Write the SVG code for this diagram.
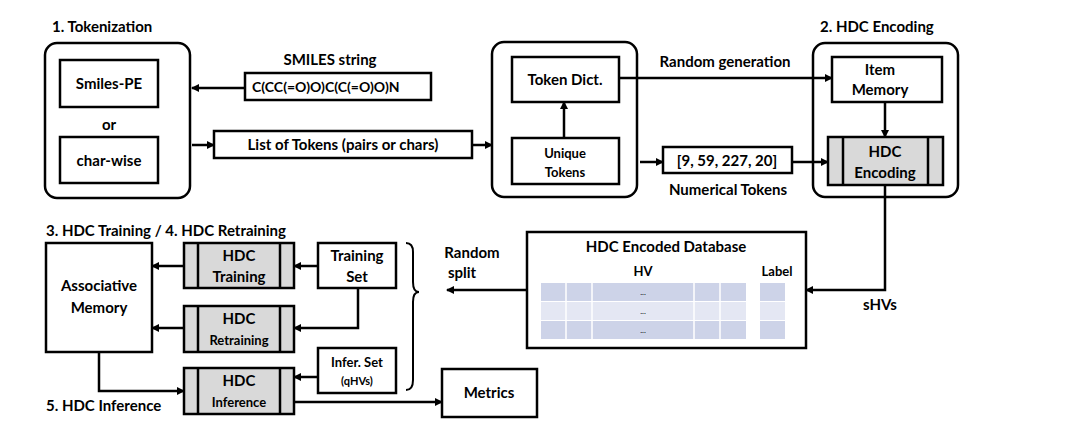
<svg xmlns="http://www.w3.org/2000/svg" width="1070" height="440" viewBox="0 0 1070 440">
<defs>
<marker id="ah" markerWidth="8" markerHeight="8" refX="7" refY="4" orient="auto" markerUnits="userSpaceOnUse"><path d="M0,0 L8,4 L0,8 Z" fill="#000"/></marker>
<style>
text{font-family:Lato,"Open Sans","Liberation Sans",sans-serif;font-weight:bold;fill:#000}
.t{font-size:15px;text-anchor:middle}
.s{font-size:13px;text-anchor:middle}
.h{font-size:15px}
.b{fill:#fff;stroke:#000;stroke-width:2.5}
.g{fill:#d9d9d9;stroke:#000;stroke-width:2.5}
.o{fill:#fff;stroke:#000;stroke-width:2.5}
.c{fill:none;stroke:#000;stroke-width:2.5;marker-end:url(#ah)}
.d{fill:none;stroke:#000;stroke-width:2.5}
.r1{fill:#cdd3e8}.r2{fill:#e4e7f3}
.dots{font-size:8px;font-weight:normal;text-anchor:middle}
</style>
</defs>
<rect width="1070" height="440" fill="#fff"/>
<g id="tokenization">
<text class="h" x="52" y="32">1. Tokenization</text>
<rect class="o" x="45" y="43" width="145" height="155" rx="12"/>
<rect class="b" x="60" y="60" width="98" height="47"/><text class="t" x="109" y="89">Smiles-PE</text>
<text class="t" x="109" y="130">or</text>
<rect class="b" x="60" y="137" width="98" height="46"/><text class="t" x="109" y="166">char-wise</text>
</g>
<g id="smiles">
<text class="t" x="330" y="65">SMILES string</text>
<rect class="b" x="245" y="73" width="186" height="27"/><text x="252" y="92" style="font-size:14px">C(CC(=O)O)C(C(=O)O)N</text>
</g>
<g id="list"><rect class="b" x="214" y="131" width="258" height="27"/><text class="t" x="343" y="150">List of Tokens (pairs or chars)</text></g>
<g id="dict">
<rect class="o" x="492" y="42" width="145" height="155" rx="12"/>
<rect class="b" x="512" y="57" width="107" height="45"/><text class="t" x="565" y="85">Token Dict.</text>
<rect class="b" x="512" y="138" width="107" height="46"/><text class="s" x="565" y="158">Unique</text><text class="s" x="565" y="177">Tokens</text>
</g>
<g id="numerical"><rect class="b" x="663" y="147" width="129" height="26"/><text class="t" x="727" y="166">[9, 59, 227, 20]</text>
<text class="t" x="728" y="195">Numerical Tokens</text></g>
<text class="t" x="725" y="67">Random generation</text>
<g id="encoding">
<text class="h" x="820" y="32">2. HDC Encoding</text>
<rect class="o" x="813" y="43" width="145" height="154" rx="12"/>
<rect class="b" x="832" y="57" width="110" height="45"/><text class="t" x="880" y="75">Item</text><text class="t" x="880" y="95">Memory</text>
<rect class="g" x="828" y="137" width="115" height="48"/><line class="d" x1="843" y1="137" x2="843" y2="185"/><line class="d" x1="928" y1="137" x2="928" y2="185"/>
<text class="t" x="885" y="157">HDC</text><text class="t" x="885" y="178">Encoding</text>
</g>
<g id="database">
<rect class="b" x="527" y="232" width="279" height="116"/>
<text class="t" x="666" y="252">HDC Encoded Database</text>
<text class="s" x="643" y="276">HV</text><text class="s" x="777" y="276">Label</text>
<rect class="r1" x="541" y="283" width="205" height="18"/><rect class="r2" x="541" y="302" width="205" height="18"/><rect class="r1" x="541" y="321" width="205" height="18"/>
<rect class="r1" x="760" y="283" width="25" height="18"/><rect class="r2" x="760" y="302" width="25" height="18"/><rect class="r1" x="760" y="321" width="25" height="18"/>
<g stroke="#fff" stroke-width="1.5"><line x1="566" y1="283" x2="566" y2="339"/><line x1="592" y1="283" x2="592" y2="339"/><line x1="694" y1="283" x2="694" y2="339"/><line x1="720" y1="283" x2="720" y2="339"/></g>
<text class="dots" x="643" y="295">...</text><text class="dots" x="643" y="314">...</text><text class="dots" x="643" y="333">...</text>
</g>
<text class="t" x="880" y="310">sHVs</text>
<text class="t" x="472" y="258">Random</text><text class="t" x="462" y="278">split</text>
<path id="brace" d="M406,243 Q413,243 413,252 L413,282 Q413,292 419,292 Q413,292 413,302 L413,380 Q413,390 406,390" fill="none" stroke="#000" stroke-width="2"/>
<g id="training">
<text class="h" x="46" y="236">3. HDC Training / 4. HDC Retraining</text>
<rect class="b" x="46" y="243" width="106" height="109"/><text class="t" x="99" y="291">Associative</text><text class="t" x="99" y="313">Memory</text>
<rect class="g" x="184" y="243" width="110" height="45"/><line class="d" x1="198" y1="243" x2="198" y2="288"/><line class="d" x1="280" y1="243" x2="280" y2="288"/><text class="t" x="239" y="261">HDC</text><text class="t" x="239" y="282">Training</text>
<rect class="g" x="184" y="306" width="110" height="46"/><line class="d" x1="198" y1="306" x2="198" y2="352"/><line class="d" x1="280" y1="306" x2="280" y2="352"/><text class="t" x="239" y="324">HDC</text><text class="s" x="239" y="345">Retraining</text>
<rect class="b" x="318" y="243" width="78" height="45"/><text class="t" x="357" y="261">Training</text><text class="t" x="357" y="282">Set</text>
</g>
<g id="inference">
<text class="h" x="46" y="411">5. HDC Inference</text>
<rect class="g" x="184" y="368" width="110" height="46"/><line class="d" x1="198" y1="368" x2="198" y2="414"/><line class="d" x1="280" y1="368" x2="280" y2="414"/><text class="t" x="239" y="386">HDC</text><text class="s" x="239" y="407">Inference</text>
<rect class="b" x="318" y="348" width="78" height="45"/><text class="s" x="357" y="367">Infer. Set</text><text x="357" y="385" style="font-size:11px;text-anchor:middle">(qHVs)</text>
<rect class="b" x="442" y="369" width="95" height="48"/><text class="t" x="489" y="398">Metrics</text>
</g>
<g id="connectors">
<path class="c" d="M245,88 H192"/>
<path class="c" d="M192,145 H214"/>
<path class="c" d="M472,145 H492"/>
<path class="c" d="M564,138 V102"/>
<path class="c" d="M619,78 H832"/>
<path class="c" d="M640,162 H663"/>
<path class="c" d="M792,162 H828"/>
<path class="c" d="M885,102 V137"/>
<path class="c" d="M885,185 V290 H806"/>
<path class="c" d="M527,290 H447"/>
<path class="c" d="M184,266 H152"/>
<path class="c" d="M318,266 H294"/>
<path class="c" d="M358,288 V328 H294"/>
<path class="c" d="M184,328 H152"/>
<path class="c" d="M318,377 H294"/>
<path class="c" d="M99,352 V391 H184"/>
<path class="c" d="M294,402 H442"/>
</g>
</svg>
